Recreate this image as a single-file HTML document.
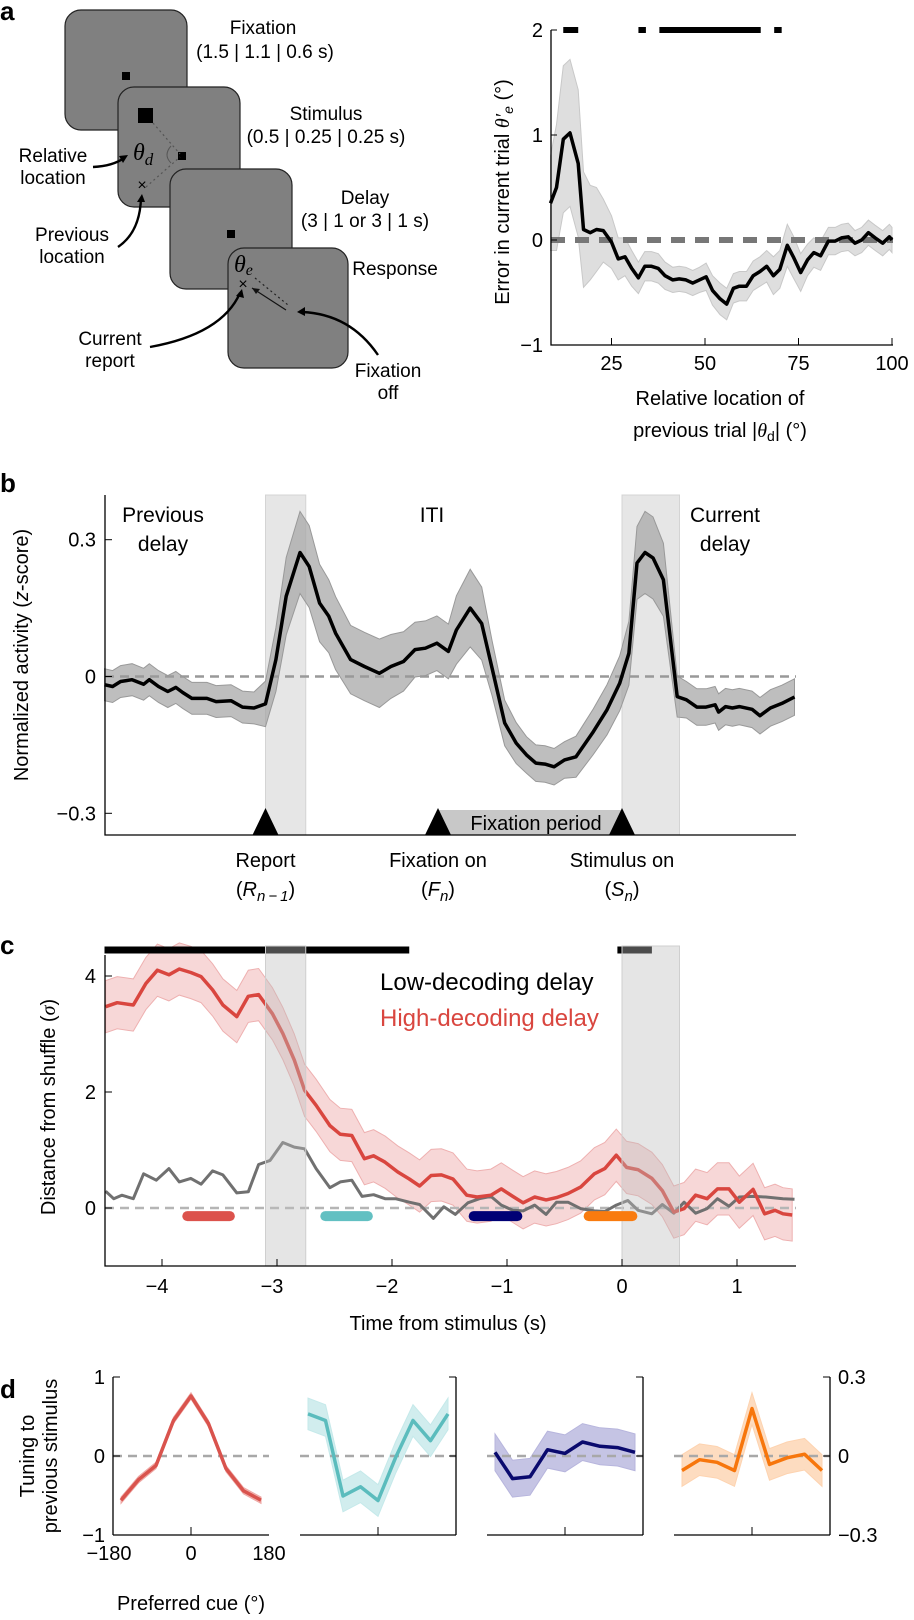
<!DOCTYPE html>
<html><head><meta charset="utf-8">
<style>
html,body{margin:0;padding:0;background:#fff;}
svg{display:block;font-family:"Liberation Sans",sans-serif;}
text{fill:#000;}
</style></head>
<body>
<svg id="fig" width="914" height="1620" viewBox="0 0 914 1620" xmlns="http://www.w3.org/2000/svg">
<!-- Panel labels -->
<text x="0" y="20" font-size="26" font-weight="bold">a</text>
<text x="0" y="492" font-size="26" font-weight="bold">b</text>
<text x="0" y="954" font-size="26" font-weight="bold">c</text>
<text x="0" y="1398" font-size="26" font-weight="bold">d</text>

<!-- Panel a diagram -->
<g font-size="19">
  <rect x="65" y="10" width="122" height="120" rx="16" fill="#808080" stroke="#222" stroke-width="1.2"/>
  <rect x="122" y="72" width="8" height="8" fill="#000"/>
  <rect x="118" y="87" width="122" height="120" rx="16" fill="#808080" stroke="#222" stroke-width="1.2"/>
  <rect x="138" y="108" width="15" height="15" fill="#000"/>
  <rect x="178" y="152" width="8" height="8" fill="#000"/>
  <path d="M153,123 L180,154 M146,187 L180,157" stroke="#555" stroke-width="1.2" stroke-dasharray="2,3" fill="none"/>
  <path d="M171,146 Q163,155 171,163" stroke="#555" stroke-width="1" fill="none"/>
  <text x="142" y="190" font-size="16" text-anchor="middle">×</text>
  <text x="133" y="160" font-size="24" font-family="Liberation Serif,serif" font-style="italic">θ<tspan font-size="17" dy="5">d</tspan></text>
  <rect x="170" y="169" width="122" height="120" rx="16" fill="#808080" stroke="#222" stroke-width="1.2"/>
  <rect x="227" y="230" width="8" height="8" fill="#000"/>
  <rect x="228" y="248" width="120" height="120" rx="16" fill="#808080" stroke="#222" stroke-width="1.2"/>
  <text x="234" y="272" font-size="24" font-family="Liberation Serif,serif" font-style="italic">θ<tspan font-size="16" dy="3">e</tspan></text>
  <text x="243" y="289" font-size="16" text-anchor="middle">×</text>
  <path d="M255,278 L288,305" stroke="#222" stroke-width="1.2" stroke-dasharray="2,3" fill="none"/>
  <path d="M286,310 L252,288" stroke="#111" stroke-width="1.2" fill="none"/>
  <path d="M252,288 l8,1 l-4,5 z" fill="#111"/>
  <g fill="none" stroke="#000" stroke-width="2.4">
    <path d="M93,167 Q113,166 124,158"/>
    <path d="M118,247 Q140,232 141,198"/>
    <path d="M150,347 Q222,334 240,293"/>
    <path d="M378,355 Q350,314 302,312"/>
  </g>
  <path d="M128,155 l-9,1 l4,7 z" fill="#000"/>
  <path d="M142,194 l-5,8 l8,0 z" fill="#000"/>
  <path d="M242,289 l-6,7 l8,2 z" fill="#000"/>
  <path d="M297,312 l8,-5 l0,9 z" fill="#000"/>
  <g text-anchor="middle">
    <text x="263" y="34">Fixation</text>
    <text x="265" y="58">(1.5 | 1.1 | 0.6 s)</text>
    <text x="326" y="120">Stimulus</text>
    <text x="326" y="143">(0.5 | 0.25 | 0.25 s)</text>
    <text x="365" y="204">Delay</text>
    <text x="365" y="227">(3 | 1 or 3 | 1 s)</text>
    <text x="395" y="275">Response</text>
    <text x="53" y="162">Relative</text>
    <text x="53" y="184">location</text>
    <text x="72" y="241">Previous</text>
    <text x="72" y="263">location</text>
    <text x="110" y="345">Current</text>
    <text x="110" y="367">report</text>
    <text x="388" y="377">Fixation</text>
    <text x="388" y="399">off</text>
  </g>
</g>

<g id="chartA"></g>
<g id="chartB"></g>
<g id="chartC"></g>
<g id="chartD"></g>
</svg>

<script>
// ---------- Panel a data ----------
const aRelLoc = [8.7,10.3,12.1,13.9,16.1,17.5,19.3,21.0,22.8,25.0,26.8,28.6,30.4,32.2,33.9,35.7,37.5,39.3,41.4,43.1,44.9,46.7,48.5,50.3,52.0,54.0,55.8,57.6,59.2,61.1,62.9,64.7,66.5,68.3,70.0,72.0,73.6,75.6,77.4,79.1,80.9,83.0,84.8,86.5,88.3,90.1,91.9,93.7,95.5,97.5,99.3,100];
const aError = [0.35,0.50,0.96,1.02,0.73,0.10,0.07,0.10,0.09,-0.02,-0.18,-0.16,-0.27,-0.36,-0.25,-0.25,-0.27,-0.34,-0.38,-0.37,-0.38,-0.41,-0.38,-0.35,-0.48,-0.56,-0.61,-0.46,-0.44,-0.44,-0.34,-0.30,-0.25,-0.34,-0.28,-0.05,-0.16,-0.31,-0.19,-0.12,-0.15,-0.01,-0.01,0.02,0.03,-0.03,0.0,0.07,0.02,-0.03,0.03,0.0];
const aSem = [0.45,0.6,0.7,0.7,0.7,0.55,0.45,0.4,0.3,0.25,0.2,0.18,0.17,0.15,0.14,0.14,0.14,0.13,0.12,0.12,0.12,0.12,0.12,0.13,0.14,0.15,0.15,0.14,0.14,0.14,0.14,0.14,0.15,0.18,0.18,0.2,0.2,0.18,0.15,0.14,0.14,0.13,0.13,0.13,0.13,0.12,0.12,0.12,0.12,0.12,0.12,0.12];
const aSigStart = [12.1,32.2,37.8,68.5];
const aSigEnd = [16.1,34.2,64.9,70.5];
const aXTicks = [25,50,75,100];
const aYTicks = [2,1,0,-1];

// ---------- Panel b data ----------
const bTime = [-4.50,-4.43,-4.36,-4.26,-4.16,-4.11,-4.03,-3.95,-3.88,-3.82,-3.74,-3.61,-3.53,-3.40,-3.30,-3.20,-3.10,-3.01,-2.92,-2.80,-2.72,-2.63,-2.55,-2.49,-2.36,-2.24,-2.11,-2.01,-1.90,-1.80,-1.71,-1.61,-1.51,-1.44,-1.32,-1.22,-1.13,-1.02,-0.92,-0.83,-0.75,-0.67,-0.59,-0.50,-0.40,-0.25,-0.13,-0.02,0.06,0.13,0.20,0.27,0.36,0.48,0.56,0.65,0.73,0.81,0.84,0.90,0.96,1.02,1.13,1.20,1.29,1.39,1.50];
const bActivity = [-0.018,-0.022,-0.011,-0.007,-0.017,-0.007,-0.022,-0.033,-0.024,-0.035,-0.048,-0.048,-0.055,-0.053,-0.067,-0.069,-0.060,0.037,0.176,0.272,0.241,0.161,0.132,0.095,0.037,0.022,0.007,0.022,0.033,0.059,0.062,0.073,0.055,0.102,0.150,0.116,0.018,-0.102,-0.146,-0.172,-0.190,-0.192,-0.198,-0.183,-0.176,-0.121,-0.073,-0.015,0.051,0.249,0.272,0.260,0.212,-0.044,-0.051,-0.067,-0.067,-0.062,-0.078,-0.066,-0.069,-0.066,-0.072,-0.086,-0.069,-0.059,-0.045];
const bSem = [0.035,0.035,0.035,0.035,0.035,0.035,0.035,0.035,0.035,0.035,0.035,0.035,0.035,0.035,0.035,0.035,0.05,0.07,0.085,0.09,0.09,0.085,0.08,0.08,0.075,0.075,0.075,0.07,0.065,0.06,0.06,0.06,0.06,0.075,0.085,0.08,0.06,0.05,0.045,0.04,0.04,0.04,0.04,0.04,0.045,0.05,0.055,0.06,0.07,0.08,0.09,0.09,0.08,0.045,0.04,0.04,0.04,0.04,0.04,0.04,0.04,0.04,0.04,0.04,0.04,0.04,0.04];
const bYTicks = [0.3,0,-0.3];
const bYTickLabels = ["0.3","0","\u22120.3"];
const bEvents = [-3.1,-1.6,0];

// ---------- Panel c data ----------
const cHighTime = [-4.49,-4.39,-4.25,-4.14,-4.04,-3.94,-3.85,-3.75,-3.66,-3.56,-3.47,-3.35,-3.25,-3.16,-3.04,-2.95,-2.85,-2.76,-2.66,-2.54,-2.45,-2.35,-2.24,-2.16,-2.06,-1.95,-1.85,-1.76,-1.66,-1.57,-1.47,-1.35,-1.26,-1.14,-1.05,-0.95,-0.86,-0.76,-0.66,-0.57,-0.47,-0.36,-0.24,-0.15,-0.05,0.04,0.14,0.26,0.35,0.45,0.54,0.64,0.74,0.83,0.93,1.02,1.14,1.24,1.33,1.40,1.48];
const cHigh = [3.47,3.54,3.50,3.87,4.10,4.02,4.12,4.06,3.99,3.76,3.50,3.30,3.65,3.68,3.35,3.01,2.55,2.03,1.77,1.42,1.27,1.25,0.85,0.90,0.79,0.62,0.50,0.38,0.56,0.57,0.50,0.22,0.19,0.22,0.33,0.20,0.09,0.19,0.14,0.18,0.25,0.36,0.59,0.68,0.91,0.70,0.66,0.51,0.30,-0.07,-0.01,0.22,0.16,0.33,0.33,0.10,0.32,-0.10,-0.04,-0.10,-0.12];
const cHighSem = 0.45;
const cLowTime = [-4.49,-4.42,-4.35,-4.25,-4.16,-4.05,-3.94,-3.85,-3.75,-3.66,-3.56,-3.47,-3.35,-3.25,-3.16,-3.06,-2.95,-2.85,-2.76,-2.66,-2.54,-2.45,-2.35,-2.26,-2.16,-2.06,-1.97,-1.85,-1.76,-1.64,-1.55,-1.45,-1.34,-1.24,-1.14,-1.05,-0.95,-0.86,-0.76,-0.66,-0.57,-0.47,-0.36,-0.24,-0.15,-0.05,0.05,0.14,0.26,0.35,0.45,0.54,0.64,0.74,0.83,0.93,1.02,1.14,1.25,1.40,1.50];
const cLow = [0.29,0.16,0.22,0.16,0.59,0.48,0.68,0.45,0.51,0.41,0.64,0.57,0.26,0.28,0.75,0.82,1.13,1.05,1.02,0.68,0.35,0.45,0.48,0.20,0.23,0.16,0.16,0.10,0.06,-0.18,0.02,-0.11,0.09,0.16,0.20,0.05,-0.04,-0.05,0.05,-0.11,0.10,0.10,-0.01,-0.05,-0.06,0.05,0.13,-0.04,-0.10,0.06,-0.09,0.10,-0.09,-0.01,0.16,0.03,0.19,0.20,0.19,0.16,0.15];
const cWindowStart = [-3.78,-2.58,-1.29,-0.29];
const cWindowEnd = [-3.41,-2.21,-0.91,0.09];
const cWindowColors = ["#dc524c","#62c0c2","#000075","#f97b0f"];
const cSigStart = [-4.5,-0.04];
const cSigEnd = [-1.85,0.26];
const cXTicks = [-4,-3,-2,-1,0,1];
const cYTicks = [4,2,0];

// ---------- Panel d data ----------
const dCue = [-180,-135,-90,-45,0,45,90,135,180];
const dRed = [-0.56,-0.30,-0.12,0.45,0.76,0.41,-0.16,-0.44,-0.56];
const dTeal = [0.16,0.135,-0.152,-0.117,-0.169,-0.007,0.135,0.058,0.16];
const dNavy = [0.014,-0.086,-0.079,0.024,0.01,0.053,0.037,0.032,0.014];
const dOrange = [-0.055,-0.014,-0.024,-0.055,0.18,-0.032,-0.007,0.007,-0.055];
const dSem = [0.04,0.06,0.07,0.06];
const dScales = [1,0.3,0.3,0.3];

const NS = "http://www.w3.org/2000/svg";
function mk(parent, tag, attrs, txt){
  const e = document.createElementNS(NS, tag);
  for (const k in attrs) e.setAttribute(k, attrs[k]);
  if (txt !== undefined) e.textContent = txt;
  parent.appendChild(e);
  return e;
}
function linePath(xs, ys, fx, fy){
  return xs.map((x,i)=>(i?"L":"M")+fx(x).toFixed(1)+","+fy(ys[i]).toFixed(1)).join(" ");
}
function bandPath(xs, ys, err, fx, fy){
  const e = i => Array.isArray(err) ? err[i] : err;
  let d = xs.map((x,i)=>(i?"L":"M")+fx(x).toFixed(1)+","+fy(ys[i]+e(i)).toFixed(1)).join(" ");
  for (let i=xs.length-1;i>=0;i--) d += " L"+fx(xs[i]).toFixed(1)+","+fy(ys[i]-e(i)).toFixed(1);
  return d+" Z";
}

// ===== Panel a chart =====
(function(){
  const g = document.getElementById("chartA");
  const x = v => 518 + v*3.74, y = v => 240 - v*105;
  const band = mk(g,"path",{d:bandPath(aRelLoc,aError,aSem,x,y),fill:"#dedede",stroke:"#c8c8c8","stroke-width":1});
  
  
  const z = mk(g,"line",{x1:551,x2:893,y1:y(0),y2:y(0),stroke:"#777","stroke-width":6,"stroke-dasharray":"14,10"});
  
  
  const ln = mk(g,"path",{d:linePath(aRelLoc,aError,x,y),fill:"none",stroke:"#000","stroke-width":3.5,"stroke-linejoin":"round"});
  
  
  aSigStart.forEach((s,i)=>{
    const r = mk(g,"line",{x1:x(s),x2:x(aSigEnd[i]),y1:y(2),y2:y(2),stroke:"#000","stroke-width":6});
    
    
  });
  const ax = mk(g,"path",{d:"M551,"+y(2)+" L551,"+y(-1)+" L893,"+y(-1),fill:"none",stroke:"#000","stroke-width":1.3});
  
  
  aYTicks.forEach(t=>{
    mk(g,"line",{x1:551,x2:557,y1:y(t),y2:y(t),stroke:"#000","stroke-width":1});
    const l = mk(g,"text",{x:543,y:y(t)+7,"font-size":20,"text-anchor":"end"}, t<0?"\u2212"+(-t):String(t));
    
    
  });
  aXTicks.forEach(t=>{
    mk(g,"line",{x1:x(t),x2:x(t),y1:y(-1),y2:y(-1)-7,stroke:"#000","stroke-width":1});
    const l = mk(g,"text",{x:x(t),y:370,"font-size":20,"text-anchor":"middle"}, String(t));
    
    
  });
  const t1 = mk(g,"text",{x:720,y:405,"font-size":20,"text-anchor":"middle"},"Relative location of");
  
  
  const t2 = mk(g,"text",{x:720,y:437,"font-size":20,"text-anchor":"middle"});
  
  
  t2.innerHTML = 'previous trial |<tspan font-family="Liberation Serif,serif" font-style="italic">θ</tspan><tspan font-size="14" dy="4">d</tspan><tspan dy="-4">| (°)</tspan>';
  const yt = mk(g,"text",{x:0,y:0,"font-size":20,"text-anchor":"middle",transform:"translate(509,192) rotate(-90)"});
  
  
  yt.innerHTML = 'Error in current trial <tspan font-family="Liberation Serif,serif" font-style="italic">θ′</tspan><tspan font-size="14" dy="4" font-style="italic">e</tspan><tspan dy="-4"> (°)</tspan>';
})();

// ===== Panel b chart =====
(function(){
  const g = document.getElementById("chartB");
  const x = t => 622 + t*115, y = v => 676.5 - v*456;
  [[-3.1,-2.75],[0,0.5]].forEach(p=>{
    const r = mk(g,"rect",{x:x(p[0]),y:495,width:x(p[1])-x(p[0]),height:340,fill:"#e6e6e6",stroke:"#d4d4d4","stroke-width":1});
    
    
  });
  const band = mk(g,"path",{d:bandPath(bTime,bActivity,bSem,x,y),fill:"#a8a8a8","fill-opacity":0.75,stroke:"#999","stroke-width":1});
  
  
  const z = mk(g,"line",{x1:105,x2:796,y1:y(0),y2:y(0),stroke:"#999","stroke-width":2.5,"stroke-dasharray":"9,6"});
  
  
  const ln = mk(g,"path",{d:linePath(bTime,bActivity,x,y),fill:"none",stroke:"#000","stroke-width":3.5,"stroke-linejoin":"round"});
  
  
  const fp = mk(g,"rect",{x:x(-1.6),y:810,width:x(0)-x(-1.6),height:25,fill:"#c8c8c8"});
  
  
  const fpt = mk(g,"text",{x:(x(-1.6)+x(0))/2+6,y:830,"font-size":20,"text-anchor":"middle"},"Fixation period");
  
  
  bEvents.forEach(t=>{
    const tr = mk(g,"path",{d:"M"+(x(t)-13)+",835 L"+(x(t)+13)+",835 L"+x(t)+",808 Z",fill:"#000"});
    
    
  });
  const ax = mk(g,"path",{d:"M105,495 L105,835 L796,835",fill:"none",stroke:"#000","stroke-width":1.3});
  
  
  bYTicks.forEach((t,i)=>{
    mk(g,"line",{x1:105,x2:112,y1:y(t),y2:y(t),stroke:"#000","stroke-width":1});
    const l = mk(g,"text",{x:96,y:y(t)+7,"font-size":20,"text-anchor":"end"},bYTickLabels[i]);
    
    
  });
  const yt = mk(g,"text",{x:0,y:0,"font-size":20,"text-anchor":"middle",transform:"translate(28,655) rotate(-90)"});
  
  
  yt.innerHTML = 'Normalized activity (<tspan font-style="italic">z</tspan>-score)';
  const labels = [["Previous",163,522],["delay",163,551],["ITI",432,522],["Current",725,522],["delay",725,551]];
  labels.forEach(l=>{
    const t = mk(g,"text",{x:l[1],y:l[2],"font-size":21,"text-anchor":"middle"},l[0]);
    
    
  });
  const ev = [["Report","R","n\u2009\u2212\u20091",x(-3.1)],["Fixation on","F","n",x(-1.6)],["Stimulus on","S","n",x(0)]];
  ev.forEach(e=>{
    const t = mk(g,"text",{x:e[3],y:867,"font-size":20,"text-anchor":"middle"},e[0]);
    
    
    const s = mk(g,"text",{x:e[3],y:896,"font-size":20,"text-anchor":"middle"});
    
    
    s.innerHTML = '(<tspan font-style="italic">'+e[1]+'</tspan><tspan font-size="15" dy="5" font-style="italic">'+e[2]+'</tspan><tspan dy="-5">)</tspan>';
  });
})();

// ===== Panel c chart =====
(function(){
  const g = document.getElementById("chartC");
  const x = t => 622 + t*115, y = v => 1208 - v*58;
  const bandHigh = mk(g,"path",{d:bandPath(cHighTime,cHigh,cHighSem,x,y),fill:"#f4caca","fill-opacity":0.75,stroke:"#eeb0b0","stroke-width":1});
  
  
  const z = mk(g,"line",{x1:105,x2:796,y1:y(0),y2:y(0),stroke:"#b5b5b5","stroke-width":2.5,"stroke-dasharray":"9,6"});
  
  
  const low = mk(g,"path",{d:linePath(cLowTime,cLow,x,y),fill:"none",stroke:"#707070","stroke-width":3,"stroke-linejoin":"round"});
  
  
  const high = mk(g,"path",{d:linePath(cHighTime,cHigh,x,y),fill:"none",stroke:"#d9463f","stroke-width":3.5,"stroke-linejoin":"round"});
  
  
  cSigStart.forEach((s,i)=>{
    const r = mk(g,"line",{x1:x(s),x2:x(cSigEnd[i]),y1:950,y2:950,stroke:"#000","stroke-width":7});
    
    
  });
  [[-3.1,-2.75],[0,0.5]].forEach(p=>{
    const r = mk(g,"rect",{x:x(p[0]),y:946,width:x(p[1])-x(p[0]),height:320,fill:"#bdbdbd","fill-opacity":0.4,stroke:"#cfcfcf","stroke-width":1});
    
    
  });
  cWindowStart.forEach((s,i)=>{
    const r = mk(g,"line",{x1:x(s),x2:x(cWindowEnd[i]),y1:y(-0.14),y2:y(-0.14),stroke:cWindowColors[i],"stroke-width":10,"stroke-linecap":"round"});
    
    
  });
  const ax = mk(g,"path",{d:"M105,955 L105,1266 L796,1266",fill:"none",stroke:"#000","stroke-width":1.3});
  
  
  cYTicks.forEach(t=>{
    mk(g,"line",{x1:105,x2:112,y1:y(t),y2:y(t),stroke:"#000","stroke-width":1});
    const l = mk(g,"text",{x:96,y:y(t)+7,"font-size":20,"text-anchor":"end"},String(t));
    
    
  });
  cXTicks.forEach(t=>{
    mk(g,"line",{x1:x(t),x2:x(t),y1:1266,y2:1259,stroke:"#000","stroke-width":1});
    const l = mk(g,"text",{x:x(t)-(t<0?5:0),y:1293,"font-size":20,"text-anchor":"middle"},t<0?"\u2212"+(-t):String(t));
    
    
  });
  const xt = mk(g,"text",{x:448,y:1330,"font-size":20,"text-anchor":"middle"},"Time from stimulus (s)");
  
  
  const yt = mk(g,"text",{x:0,y:0,"font-size":20,"text-anchor":"middle",transform:"translate(55,1107) rotate(-90)"});
  
  
  yt.innerHTML = 'Distance from shuffle (<tspan font-family="Liberation Serif,serif" font-style="italic">σ</tspan>)';
  const l1 = mk(g,"text",{x:380,y:990,"font-size":24},"Low-decoding delay");
  
  
  const l2 = mk(g,"text",{x:380,y:1026,"font-size":24,fill:"#d9463f"},"High-decoding delay");
  
  
  l2.style.fill = "#d9463f";
})();

// ===== Panel d charts =====
(function(){
  const g = document.getElementById("chartD");
  const lefts = [113,300,487,674], W = 156;
  const Y0 = 1456, YH = 79;
  const series = [dRed,dTeal,dNavy,dOrange];
  const lineCols = ["#d9534d","#5bbcbd","#0a0a6e","#f7760c"];
  const bandCols = ["#eea6a3","#c5e9ea","#b7b5dd","#fdd3b0"];
  series.forEach((vals,k)=>{
    const L = lefts[k];
    const x = c => L + 8 + (c+180)/360*(W-16);
    const y = v => Y0 - v/dScales[k]*YH;
    const band = mk(g,"path",{d:bandPath(dCue,vals,dSem[k],x,y),fill:bandCols[k],"fill-opacity":0.8,stroke:bandCols[k],"stroke-width":1});
    
    
    const z = mk(g,"line",{x1:L,x2:L+W,y1:y(0),y2:y(0),stroke:"#a8a8a8","stroke-width":2.5,"stroke-dasharray":"9,6"});
    
    
    const ln = mk(g,"path",{d:linePath(dCue,vals,x,y),fill:"none",stroke:lineCols[k],"stroke-width":3.5,"stroke-linejoin":"round"});
    
    
    mk(g,"line",{x1:L,x2:L+W,y1:Y0+YH,y2:Y0+YH,stroke:"#000","stroke-width":1.3});
    mk(g,"line",{x1:x(0),x2:x(0),y1:Y0+YH,y2:Y0+YH-8,stroke:"#000","stroke-width":1});
    if (k===0){
      mk(g,"line",{x1:L,x2:L,y1:Y0-YH,y2:Y0+YH,stroke:"#000","stroke-width":1.3});
      [1,0,-1].forEach(t=>{
        mk(g,"line",{x1:L,x2:L+7,y1:y(t),y2:y(t),stroke:"#000","stroke-width":1});
        const l = mk(g,"text",{x:L-8,y:y(t)+7,"font-size":20,"text-anchor":"end"},t<0?"\u22121":String(t));
        
        
      });
      [[-180,"\u2212180"],[0,"0"],[180,"180"]].forEach(p=>{
        const px = p[0]===-180 ? L : p[0]===180 ? L+W : L+W/2;
        const l = mk(g,"text",{x:px-(p[0]<0?4:0),y:1560,"font-size":20,"text-anchor":"middle"},p[1]);
        
        
      });
    } else {
      mk(g,"line",{x1:L+W,x2:L+W,y1:Y0-YH,y2:Y0+YH,stroke:"#000","stroke-width":1.3});
      mk(g,"line",{x1:L+W,x2:L+W-7,y1:Y0-YH,y2:Y0-YH,stroke:"#000","stroke-width":1});
      mk(g,"line",{x1:L+W,x2:L+W-7,y1:Y0,y2:Y0,stroke:"#000","stroke-width":1});
    }
    if (k===3){
      [[0.3,"0.3"],[0,"0"],[-0.3,"\u22120.3"]].forEach(p=>{
        const l = mk(g,"text",{x:L+W+8,y:y(p[0])+7,"font-size":20},p[1]);
        
        
      });
    }
  });
  const xt = mk(g,"text",{x:191,y:1610,"font-size":20,"text-anchor":"middle"},"Preferred cue (°)");
  
  
  const y1 = mk(g,"text",{x:0,y:0,"font-size":20,"text-anchor":"middle",transform:"translate(34,1456) rotate(-90)"},"Tuning to");
  
  
  const y2 = mk(g,"text",{x:0,y:0,"font-size":20,"text-anchor":"middle",transform:"translate(57,1456) rotate(-90)"},"previous stimulus");
  
  
})();
</script>
</body></html>
